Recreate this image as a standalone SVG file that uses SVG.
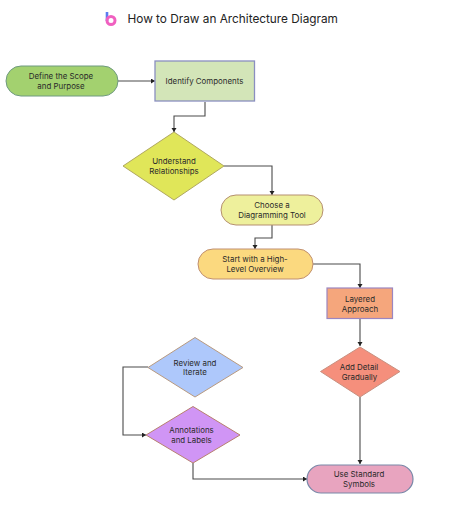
<svg xmlns="http://www.w3.org/2000/svg" width="474" height="509" viewBox="0 0 474 509">
<style>
text{font-family:Inter,"Liberation Sans",sans-serif;font-size:7.9px;fill:#2a2a2a;text-anchor:middle}
.title{font-size:11.8px;text-anchor:start;fill:#222}
.c{fill:none;stroke:#4a4a4a;stroke-width:1.1;marker-end:url(#a)}
</style>
<defs><marker id="a" markerUnits="userSpaceOnUse" markerWidth="6" markerHeight="6" refX="4" refY="2.5" orient="auto"><path d="M0 0L4 2.5L0 5Z" fill="#222"/></marker></defs>
<rect width="474" height="509" fill="#fff"/>
<g id="logo"><path d="M107 12L107 21" stroke="#5a7cf0" stroke-width="2.6" fill="none"/><circle cx="111" cy="20.500" r="4" fill="none" stroke="#f060c0" stroke-width="3"/></g>
<text class="title" x="127.500" y="23">How to Draw an Architecture Diagram</text>
<g id="connectors">
<path class="c" d="M118 81H155"/>
<path class="c" d="M205 102V116H174V132"/>
<path class="c" d="M224 166H272V195"/>
<path class="c" d="M272 225V238H255V249"/>
<path class="c" d="M313 264H360V288"/>
<path class="c" d="M360 319V346"/>
<path class="c" d="M360 397V464"/>
<path class="c" d="M148 367H123V435H146"/>
<path class="c" d="M193 463V479H307"/>
</g>
<g id="n1"><rect x="6" y="66" width="112" height="30" rx="15" fill="#a3d16f" stroke="#6f9a80"/><text x="61" y="79">Define the Scope</text><text x="61" y="89">and Purpose</text></g>
<g id="n2"><rect x="155" y="61" width="99.500" height="40" fill="#d3e5b8" stroke="#8a8fc0" stroke-width="1.300"/><text x="204.500" y="84">Identify Components</text></g>
<g id="n3"><polygon points="174,132 224,166 174,200 123,166" fill="#e0e659" stroke="#b0a860"/><text x="174" y="164">Understand</text><text x="174" y="174">Relationships</text></g>
<g id="n4"><rect x="221" y="195" width="102" height="30" rx="15" fill="#eef09c" stroke="#b58f70"/><text x="272" y="208">Choose a</text><text x="272" y="218">Diagramming Tool</text></g>
<g id="n5"><rect x="198" y="249" width="115" height="30" rx="15" fill="#fbd97f" stroke="#c08f70"/><text x="255" y="262">Start with a High-</text><text x="255" y="272">Level Overview</text></g>
<g id="n6"><rect x="327" y="288" width="65.500" height="30.500" fill="#f5a67c" stroke="#9c86c0" stroke-width="1.200"/><text x="360" y="302">Layered</text><text x="360" y="311.500">Approach</text></g>
<g id="n7"><polygon points="360,347 400,371.500 360,397 320.500,371.500" fill="#f58f7c" stroke="#c89080"/><text x="359" y="370">Add Detail</text><text x="359.500" y="379.500">Gradually</text></g>
<g id="n8"><polygon points="195,337.500 243,367.500 195,397 148,367.500" fill="#aec8fb" stroke="#b89a80"/><text x="195" y="365.500">Review and</text><text x="195" y="375">Iterate</text></g>
<g id="n9"><polygon points="193,406.500 240,435 193,463 146,435" fill="#d095f5" stroke="#b8806f"/><text x="191.500" y="433">Annotations</text><text x="191.500" y="442.500">and Labels</text></g>
<g id="n10"><rect x="307" y="465" width="106" height="28" rx="14" fill="#e8a4bf" stroke="#7888a8" stroke-width="1.200"/><text x="359" y="477">Use Standard</text><text x="359" y="487">Symbols</text></g>
</svg>
